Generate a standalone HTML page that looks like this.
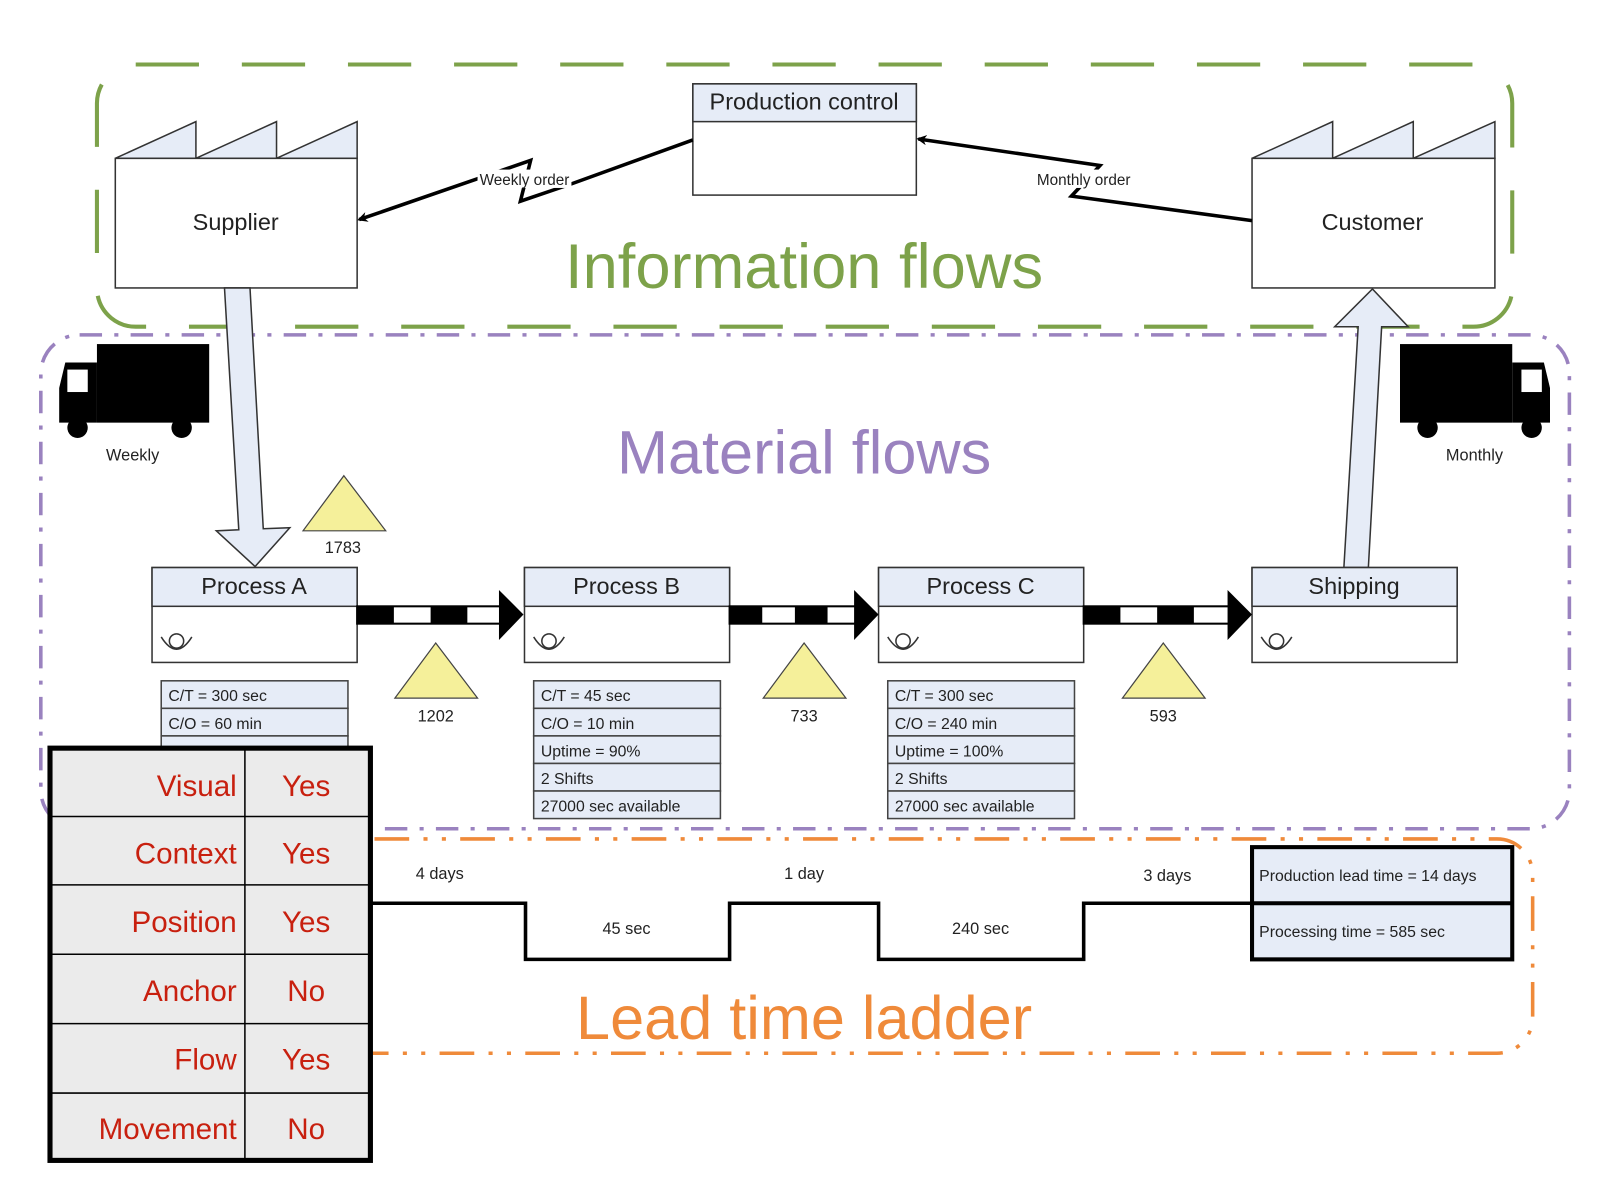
<!DOCTYPE html>
<html><head><meta charset="utf-8"><style>
html,body{margin:0;padding:0;background:#fff;}
svg{display:block;}
text{font-family:"Liberation Sans","DejaVu Sans",sans-serif;}
</style></head><body>
<svg width="1600" height="1181" viewBox="0 0 1568 1157" xmlns="http://www.w3.org/2000/svg">
<defs>
<marker id="ah" markerWidth="10" markerHeight="10" refX="8" refY="5" orient="auto" markerUnits="userSpaceOnUse"><path d="M0,0 L10,5 L0,10 L3,5 Z" fill="#000"/></marker>
</defs>
<rect width="1568" height="1157" fill="#fff"/>
<!-- region boxes -->
<rect x="95" y="63" width="1387" height="257" rx="38" fill="none" stroke="#7da24a" stroke-width="4" stroke-dasharray="62 42"/>
<rect x="40" y="328" width="1498" height="484" rx="38" fill="none" stroke="#9a82bf" stroke-width="3.5" stroke-dasharray="22 12 4 12"/>
<rect x="80" y="822" width="1422" height="210" rx="35" fill="none" stroke="#ef8a3a" stroke-width="3.5" stroke-dasharray="34 14 4 14 4 14"/>

<text x="788" y="282" font-size="62" fill="#7da24a" text-anchor="middle">Information flows</text>
<text x="788" y="464" font-size="60" fill="#9a82bf" text-anchor="middle">Material flows</text>
<text x="788" y="1018" font-size="60" fill="#ef8a3a" text-anchor="middle">Lead time ladder</text>

<g stroke="#333" stroke-width="1.5">
<path d="M113,155 L192,119 L192,155 Z M192,155 L271,119 L271,155 Z M271,155 L350,119 L350,155 Z" fill="#e6ecf7"/>
<rect x="113" y="155" width="237" height="127" fill="#fff"/>
<path d="M1227,155 L1306,119 L1306,155 Z M1306,155 L1385,119 L1385,155 Z M1385,155 L1465,119 L1465,155 Z" fill="#e6ecf7"/>
<rect x="1227" y="155" width="238" height="127" fill="#fff"/>
<rect x="679" y="82" width="219" height="109" fill="#fff"/>
<rect x="679" y="82" width="219" height="37" fill="#e6ecf7"/>
</g>
<text x="231" y="225" font-size="23" text-anchor="middle" fill="#222">Supplier</text>
<text x="1345" y="225" font-size="23" text-anchor="middle" fill="#222">Customer</text>
<text x="788" y="107" font-size="23" text-anchor="middle" fill="#222">Production control</text>

<path d="M679,137 L560,180 L510,197 L520,157 L352,215" fill="none" stroke="#000" stroke-width="3.5" marker-end="url(#ah)"/>
<rect x="468" y="166" width="92" height="18" fill="#fff"/>
<text x="514" y="181" font-size="15" text-anchor="middle" fill="#222">Weekly order</text>
<path d="M1227,216 L1050,192 L1078,162 L900,136" fill="none" stroke="#000" stroke-width="3.5" marker-end="url(#ah)"/>
<rect x="1012" y="166" width="100" height="18" fill="#fff"/>
<text x="1062" y="181" font-size="15" text-anchor="middle" fill="#222">Monthly order</text>

<g fill="#000">
<rect x="95" y="337" width="110" height="77"/>
<path d="M95,355 L64,355 L58,380 L58,414 L95,414 Z"/>
<rect x="66" y="362" width="20" height="22" fill="#fff"/>
<circle cx="76" cy="419" r="10"/><circle cx="178" cy="419" r="10"/>
<rect x="1372" y="337" width="110" height="77"/>
<path d="M1482,355 L1513,355 L1519,380 L1519,414 L1482,414 Z"/>
<rect x="1491" y="362" width="20" height="22" fill="#fff"/>
<circle cx="1399" cy="419" r="10"/><circle cx="1501" cy="419" r="10"/>
</g>
<text x="130" y="451" font-size="16" text-anchor="middle" fill="#222">Weekly</text>
<text x="1445" y="451" font-size="16" text-anchor="middle" fill="#222">Monthly</text>

<path d="M220,282 L245,282 L258,518 L284,517 L250,555 L212,520 L234,519 Z" fill="#e6ecf7" stroke="#333" stroke-width="1.5"/>
<path d="M1317,556 L1341,556 L1354,320 L1380,320 L1345,283 L1308,320 L1331,320 Z" fill="#e6ecf7" stroke="#333" stroke-width="1.5"/>

<g fill="#f5f09a" stroke="#444" stroke-width="1.2">
<path d="M337,466 L378,520 L297,520 Z"/>
<path d="M427,630 L468,684 L387,684 Z"/>
<path d="M788,630 L829,684 L748,684 Z"/>
<path d="M1140,630 L1181,684 L1100,684 Z"/>
</g>
<g font-size="16" fill="#222" text-anchor="middle">
<text x="336" y="542">1783</text>
<text x="427" y="707">1202</text>
<text x="788" y="707">733</text>
<text x="1140" y="707">593</text>
</g>

<g stroke="#333" stroke-width="1.5">
<rect x="149" y="556" width="201" height="93" fill="#fff"/><rect x="149" y="556" width="201" height="38" fill="#e6ecf7"/>
<rect x="514" y="556" width="201" height="93" fill="#fff"/><rect x="514" y="556" width="201" height="38" fill="#e6ecf7"/>
<rect x="861" y="556" width="201" height="93" fill="#fff"/><rect x="861" y="556" width="201" height="38" fill="#e6ecf7"/>
<rect x="1227" y="556" width="201" height="93" fill="#fff"/><rect x="1227" y="556" width="201" height="38" fill="#e6ecf7"/>
</g>
<g font-size="23" fill="#222" text-anchor="middle">
<text x="249" y="582">Process A</text>
<text x="614" y="582">Process B</text>
<text x="961" y="582">Process C</text>
<text x="1327" y="582">Shipping</text>
</g>
<g fill="none" stroke="#333" stroke-width="1.5">
<circle cx="173" cy="628" r="7"/><path d="M158,624 Q173,648 188,624"/>
<circle cx="538" cy="628" r="7"/><path d="M523,624 Q538,648 553,624"/>
<circle cx="885" cy="628" r="7"/><path d="M870,624 Q885,648 900,624"/>
<circle cx="1251" cy="628" r="7"/><path d="M1236,624 Q1251,648 1266,624"/>
</g>

<g>
<rect x="350" y="594" width="145" height="17" fill="#fff" stroke="#000" stroke-width="2"/>
<rect x="350" y="594" width="36" height="17" fill="#000"/><rect x="422" y="594" width="36" height="17" fill="#000"/>
<path d="M489,578 L513,602 L489,627 Z" fill="#000"/>
<rect x="715" y="594" width="127" height="17" fill="#fff" stroke="#000" stroke-width="2"/>
<rect x="715" y="594" width="32" height="17" fill="#000"/><rect x="779" y="594" width="32" height="17" fill="#000"/>
<path d="M837,578 L861,602 L837,627 Z" fill="#000"/>
<rect x="1062" y="594" width="145" height="17" fill="#fff" stroke="#000" stroke-width="2"/>
<rect x="1062" y="594" width="36" height="17" fill="#000"/><rect x="1134" y="594" width="36" height="17" fill="#000"/>
<path d="M1203,578 L1227,602 L1203,627 Z" fill="#000"/>
</g>

<g fill="#e6ecf7" stroke="#444" stroke-width="1.5">
<rect x="158" y="667" width="183" height="27"/><rect x="158" y="694" width="183" height="27"/><rect x="158" y="721" width="183" height="27"/>
<rect x="523" y="667" width="183" height="27"/><rect x="523" y="694" width="183" height="27"/><rect x="523" y="721" width="183" height="27"/><rect x="523" y="748" width="183" height="27"/><rect x="523" y="775" width="183" height="27"/>
<rect x="870" y="667" width="183" height="27"/><rect x="870" y="694" width="183" height="27"/><rect x="870" y="721" width="183" height="27"/><rect x="870" y="748" width="183" height="27"/><rect x="870" y="775" width="183" height="27"/>
</g>
<g font-size="15.5" fill="#222">
<text x="165" y="687">C/T = 300 sec</text><text x="165" y="714">C/O = 60 min</text>
<text x="530" y="687">C/T = 45 sec</text><text x="530" y="714">C/O = 10 min</text><text x="530" y="741">Uptime = 90%</text><text x="530" y="768">2 Shifts</text><text x="530" y="795">27000 sec available</text>
<text x="877" y="687">C/T = 300 sec</text><text x="877" y="714">C/O = 240 min</text><text x="877" y="741">Uptime = 100%</text><text x="877" y="768">2 Shifts</text><text x="877" y="795">27000 sec available</text>
</g>

<path d="M300,885 L515,885 L515,940 L715,940 L715,885 L861,885 L861,940 L1062,940 L1062,885 L1227,885" fill="none" stroke="#000" stroke-width="3.5"/>
<g font-size="16" fill="#222" text-anchor="middle">
<text x="431" y="861">4 days</text><text x="788" y="861">1 day</text><text x="1144" y="863">3 days</text>
<text x="614" y="915">45 sec</text><text x="961" y="915">240 sec</text>
</g>
<rect x="1227" y="830" width="255" height="110" fill="#e6ecf7" stroke="#000" stroke-width="4"/>
<line x1="1227" y1="885" x2="1482" y2="885" stroke="#000" stroke-width="4"/>
<text x="1234" y="863" font-size="15.5" fill="#222">Production lead time = 14 days</text>
<text x="1234" y="918" font-size="15.5" fill="#222">Processing time = 585 sec</text>

<rect x="49" y="733" width="314" height="404" fill="#ebebeb" stroke="#000" stroke-width="5"/>
<g stroke="#000" stroke-width="1.5">
<line x1="240" y1="733" x2="240" y2="1137"/>
<line x1="51" y1="800" x2="361" y2="800"/><line x1="51" y1="867" x2="361" y2="867"/><line x1="51" y1="935" x2="361" y2="935"/><line x1="51" y1="1003" x2="361" y2="1003"/><line x1="51" y1="1071" x2="361" y2="1071"/>
</g>
<g font-size="29" fill="#c8200f" font-family="'DejaVu Sans',sans-serif">
<g text-anchor="end">
<text x="232" y="780">Visual</text><text x="232" y="846">Context</text><text x="232" y="913">Position</text><text x="232" y="981">Anchor</text><text x="232" y="1048">Flow</text><text x="232" y="1116">Movement</text>
</g>
<g text-anchor="middle">
<text x="300" y="780">Yes</text><text x="300" y="846">Yes</text><text x="300" y="913">Yes</text><text x="300" y="981">No</text><text x="300" y="1048">Yes</text><text x="300" y="1116">No</text>
</g>
</g>
</svg>
</body></html>
